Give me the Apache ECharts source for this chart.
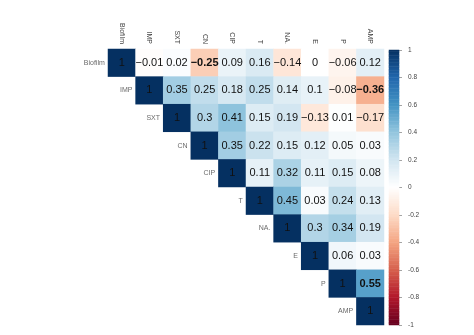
<!DOCTYPE html>
<html>
<head>
<meta charset="utf-8">
<script src="https://cdn.jsdelivr.net/npm/echarts@6/dist/echarts.min.js"></script>
<style>
  html, body { margin: 0; padding: 0; background: #fff; }
  #chart { width: 474px; height: 335px; }
</style>
</head>
<body>
<div id="chart"></div>
<script>
// Variables of the correlation matrix (upper triangle is drawn)
const variables = ['Biofilm', 'IMP', 'SXT', 'CN', 'CIP', 'T', 'NA.', 'E', 'P', 'AMP'];

// Correlation coefficients, each row starting at its diagonal
const rowBiofilm = [1, -0.01, 0.02, -0.25, 0.09, 0.16, -0.14, 0, -0.06, 0.12];
const rowIMP     = [1, 0.35, 0.25, 0.18, 0.25, 0.14, 0.1, -0.08, -0.36];
const rowSXT     = [1, 0.3, 0.41, 0.15, 0.19, -0.13, 0.01, -0.17];
const rowCN      = [1, 0.35, 0.22, 0.15, 0.12, 0.05, 0.03];
const rowCIP     = [1, 0.11, 0.32, 0.11, 0.15, 0.08];
const rowT       = [1, 0.45, 0.03, 0.24, 0.13];
const rowNA      = [1, 0.3, 0.34, 0.19];
const rowE       = [1, 0.06, 0.03];
const rowP       = [1, 0.55];
const rowAMP     = [1];

// Pairs flagged as significant (printed in bold)
const significantPairs = [['Biofilm', 'CN'], ['IMP', 'AMP'], ['P', 'AMP']];

// Colour-bar range and tick spacing
const scaleMin = -1, scaleMax = 1, scaleStep = 0.2;
const rampSteps = 200;

// RdBu diverging palette
const palette = ['#67001F', '#B2182B', '#D6604D', '#F4A582', '#FDDBC7', '#FFFFFF',
                 '#D1E5F0', '#92C5DE', '#4393C3', '#2166AC', '#053061'];

const rows = [rowBiofilm, rowIMP, rowSXT, rowCN, rowCIP, rowT, rowNA, rowE, rowP, rowAMP];
const isSignificant = (a, b) => significantPairs.some(p => p[0] === a && p[1] === b);
const fmt = v => String(v).replace('-', '\u2212');

const cells = [];
rows.forEach((row, i) => {
  row.forEach((v, k) => {
    const j = i + k;
    const bold = isSignificant(variables[i], variables[j]);
    cells.push({
      value: [j, i, v],
      label: { fontWeight: bold ? 'bold' : 'normal' }
    });
  });
});

// colour ramp for the legend bar: one thin cell per step, top = +1
const rampLevels = [];
for (let s = 0; s < rampSteps; s++) rampLevels.push(s);
const rampCells = rampLevels.map(s => [0, s, scaleMax - (s + 0.5) * (scaleMax - scaleMin) / rampSteps]);

const FONT = '"Liberation Sans", Arial, Helvetica, sans-serif';

const chart = echarts.init(document.getElementById('chart'), null, { renderer: 'canvas' });
chart.setOption({
  animation: false,
  backgroundColor: '#fff',
  grid: [
    { left: 108, top: 49, width: 276, height: 276 },
    { left: 389, top: 50, width: 10, height: 275 }
  ],
  xAxis: [
    {
      gridIndex: 0, type: 'category', data: variables, position: 'top',
      axisLine: { show: false }, axisTick: { show: false }, splitLine: { show: false },
      axisLabel: { rotate: 90, fontSize: 7, color: '#444', fontFamily: FONT, margin: 5, interval: 0 }
    },
    { gridIndex: 1, type: 'category', data: ['r'], show: false }
  ],
  yAxis: [
    {
      gridIndex: 0, type: 'category', data: variables, inverse: true, show: false
    },
    {
      gridIndex: 1, type: 'value', min: scaleMin, max: scaleMax, interval: scaleStep,
      position: 'right',
      axisLine: { show: false }, splitLine: { show: false },
      axisTick: { show: true, length: 3, lineStyle: { color: '#666', width: 0.6 } },
      axisLabel: {
        fontSize: 6.5, color: '#444', fontFamily: FONT, margin: 9,
        formatter: v => String(Math.round(v * 10) / 10)
      }
    },
    {
      gridIndex: 1, type: 'category', data: rampLevels, inverse: true, show: false
    }
  ],
  visualMap: {
    type: 'continuous',
    show: false,
    min: scaleMin, max: scaleMax,
    seriesIndex: [0, 2],
    inRange: { color: palette }
  },
  series: [
    {
      type: 'heatmap',
      xAxisIndex: 0, yAxisIndex: 0,
      data: cells,
      itemStyle: { borderWidth: 0 },
      label: {
        show: true,
        fontSize: 11,
        fontFamily: FONT,
        color: '#111',
        formatter: p => fmt(p.value[2])
      },
      emphasis: { disabled: true }
    },
    {
      // row names placed next to each diagonal cell
      type: 'scatter',
      xAxisIndex: 0, yAxisIndex: 0,
      symbolSize: 0,
      data: variables.map((name, i) => [i, i]),
      label: {
        show: true,
        position: 'left',
        distance: 17,
        fontSize: 7,
        color: '#444',
        fontFamily: FONT,
        formatter: p => variables[p.dataIndex]
      },
      silent: true
    },
    {
      // legend colour bar
      type: 'heatmap',
      xAxisIndex: 1, yAxisIndex: 2,
      data: rampCells,
      itemStyle: { borderWidth: 0 },
      emphasis: { disabled: true },
      silent: true
    }
  ]
});
</script>
</body>
</html>
